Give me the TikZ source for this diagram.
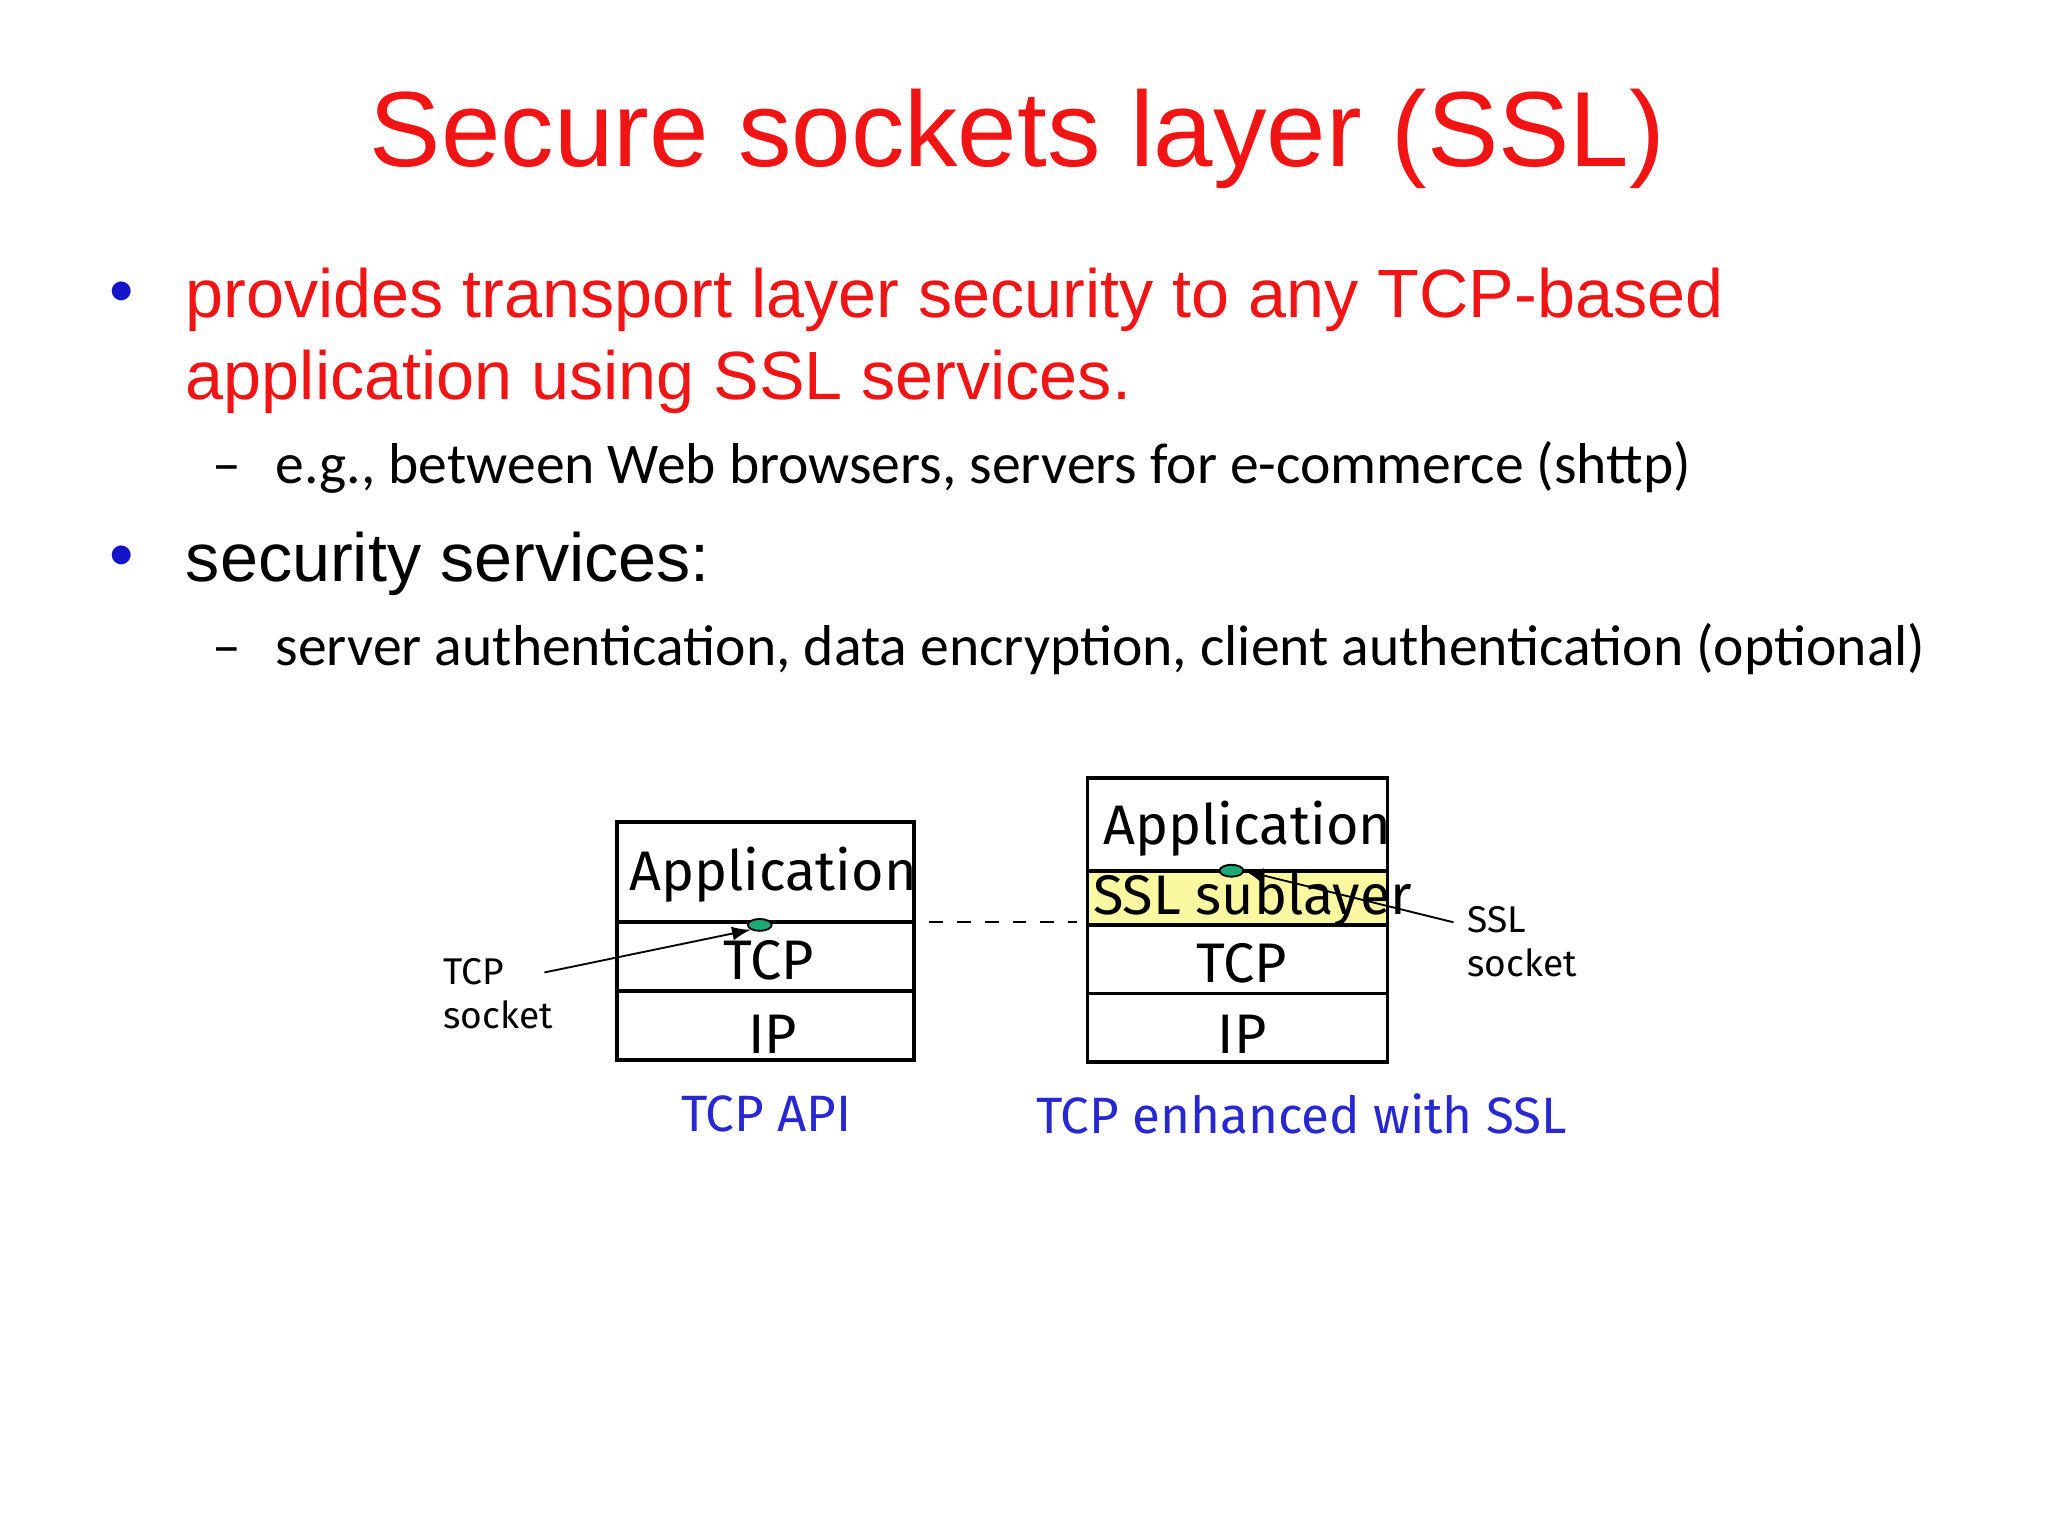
\documentclass[tikz,border=0pt]{standalone}
\usepackage{fontspec}
\usetikzlibrary{shapes.geometric}
\setmainfont{Liberation Sans}
\newfontfamily\calfont{Carlito}
\newfontfamily\diag{Fira Sans}
\definecolor{slidered}{RGB}{240,20,20}
\definecolor{bulletblue}{RGB}{20,20,200}
\definecolor{apiblue}{RGB}{40,40,210}
\definecolor{ssly}{RGB}{250,248,160}
\definecolor{sockgreen}{RGB}{30,170,120}
\begin{document}
\begin{tikzpicture}[x=0.01cm,y=-0.01cm,
  txt/.style = {anchor=base west, inner sep=0pt},
  layer/.style = {font=\diag\fontsize{12}{14}\selectfont, inner sep=0pt},
  small/.style = {font=\diag\fontsize{8}{9.5}\selectfont, align=left, inner sep=0pt},
  caption/.style = {font=\diag\fontsize{11}{13}\selectfont, text=apiblue, inner sep=0pt},
  sock/.style = {draw=black, fill=sockgreen, ellipse, minimum width=0.18cm, minimum height=0.09cm, inner sep=0pt}]
\useasboundingbox (0,0) rectangle (1550,1160);
% title and bullets
\node[font=\fontsize{23}{27}\selectfont, text=slidered] (title) at (770,105) {Secure sockets layer (SSL)};
\node[txt, text=bulletblue, font=\fontsize{15}{18}\selectfont] (b1) at (82,238) {•};
\node[txt, text=slidered, font=\fontsize{14.7}{18}\selectfont] (t1) at (140,240) {provides transport layer security to any TCP-based};
\node[txt, text=slidered, font=\fontsize{14.7}{18}\selectfont] (t1b) at (140,302) {application using SSL services.};
\node[txt, font=\calfont\fontsize{12.4}{15}\selectfont] (d1) at (160,366) {–};
\node[txt, font=\calfont\fontsize{12.4}{15}\selectfont] (s1) at (208,366) {e.g., between Web browsers, servers for e-commerce (shttp)};
\node[txt, text=bulletblue, font=\fontsize{15}{18}\selectfont] (b2) at (82,438) {•};
\node[txt, font=\fontsize{14.7}{18}\selectfont] (t2) at (140,440) {security services:};
\node[txt, font=\calfont\fontsize{12.4}{15}\selectfont] (d2) at (160,504) {–};
\node[txt, font=\calfont\fontsize{12.4}{15}\selectfont] (s2) at (208,504) {server authentication, data encryption, client authentication (optional)};
% left stack
\draw[thick] (467,622) rectangle (692,802);
\draw[thick] (467,698) -- (692,698);
\draw[thick] (467,750) -- (692,750);
\node[layer] (lapp) at (585,662) {Application};
\node[layer] (ltcp) at (582,727) {TCP};
\node[layer] (lip) at (585,783) {IP};
% right stack
\fill[ssly] (823,659) rectangle (1050,700);
\draw[thick] (823,589) rectangle (1050,804);
\draw[thick] (823,659) -- (1050,659);
\draw[thick] (823,700) -- (1050,700);
\draw[thick] (823,752) -- (1050,752);
\node[layer] (rapp) at (944,627) {Application};
\node[layer] (rssl) at (948,681) {SSL sublayer};
\node[layer] (rtcp) at (940,729) {TCP};
\node[layer] (rip) at (940,783) {IP};
% dashed link
\coordinate (dl) at (703,698);
\coordinate (dr) at (815,698);
\draw[dashed] (dl) -- (dr);
% sockets
\node[sock] (ltsock) at (575,700) {};
\node[sock] (rsock) at (932,659) {};
\node[small] (tcpsock) at (377,752) {TCP\\socket};
\node[small] (sslsock) at (1152,713) {SSL\\socket};
\coordinate (tcpfrom) at (412,736);
\coordinate (sslfrom) at (1100,698);
\draw[-latex] (tcpfrom) -- (ltsock.south west);
\draw[-latex] (sslfrom) -- (rsock.east);
% captions
\node[caption] (api) at (580,843) {TCP API};
\node[caption] (enh) at (985,843) {TCP enhanced with SSL};
\end{tikzpicture}
\end{document}
